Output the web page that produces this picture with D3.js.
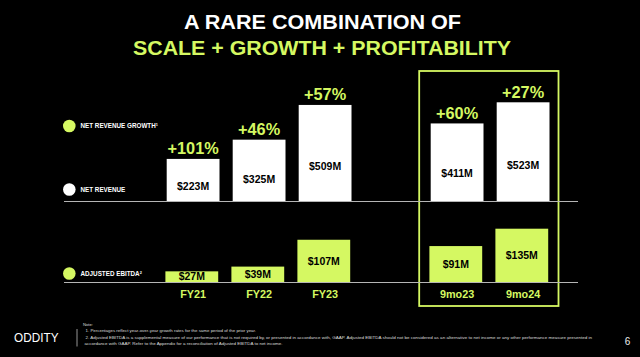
<!DOCTYPE html>
<html>
<head>
<meta charset="utf-8">
<script src="https://cdn.jsdelivr.net/npm/d3@7"></script>
<style>
  html, body { margin: 0; padding: 0; background: #000; }
  svg { display: block; }
  text { font-family: "Liberation Sans", Arial, sans-serif; }
</style>
</head>
<body>
<svg id="chart" width="640" height="357"></svg>
<script>
// ---- data ----
const categories = ["FY21", "FY22", "FY23", "9mo23", "9mo24"];
const netRevenue = [223, 325, 509, 411, 523];           // $M
const revenueGrowth = [101, 46, 57, 60, 27];            // %
const adjustedEbitda = [27, 39, 107, 91, 135];          // $M
const slots = ["FY21", "FY22", "FY23", "", "9mo23", "9mo24"]; // "" = spacer slot
const highlighted = ["9mo23", "9mo24"];
const titleLines = ["A RARE COMBINATION OF", "SCALE + GROWTH + PROFITABILITY"];
const legendLabels = ["NET REVENUE GROWTH", "NET REVENUE", "ADJUSTED EBITDA"];
const legendSup = ["1", "", "2"];
const noteLines = [
  "Note:",
  "1. Percentages  reflect  year-over-year  growth rates  for the same  period  of the prior  year.",
  "2. Adjusted  EBITDA is a supplemental  measure  of our performance  that is not required  by, or presented  in accordance  with, GAAP. Adjusted  EBITDA should  not  be considered  as an alternative  to net income  or any other performance  measure  presented  in",
  "accordance  with GAAP. Refer to the Appendix  for a reconciliation  of Adjusted  EBITDA to net income."
];

const LIME = "#d5f862";
const svg = d3.select("#chart");
svg.append("rect").attr("width", 640).attr("height", 357).attr("fill", "#000");

const data = categories.map((c, i) => ({
  cat: c, rev: netRevenue[i], growth: revenueGrowth[i], ebitda: adjustedEbitda[i]
}));

// ---- scales ----
const x = d3.scaleBand().domain(slots).range([160.1, 556.1])
  .paddingInner(0.2).paddingOuter(0.1);
const yRev = d3.scaleLinear().domain([0, 523]).range([201, 102.3]);
const yEb = d3.scaleLinear().domain([0, 135]).range([282, 228.7]);

// ---- title ----
svg.append("text").attr("x", 322.5).attr("y", 29).attr("text-anchor", "middle")
  .attr("font-size", 21).attr("font-weight", "bold").attr("fill", "#fff")
  .attr("textLength", 277).attr("lengthAdjust", "spacingAndGlyphs")
  .text(titleLines[0]);
svg.append("text").attr("x", 322).attr("y", 55).attr("text-anchor", "middle")
  .attr("font-size", 21).attr("font-weight", "bold").attr("fill", LIME)
  .attr("textLength", 378).attr("lengthAdjust", "spacingAndGlyphs")
  .text(titleLines[1]);

// ---- highlight box ----
const hx0 = x(highlighted[0]), hx1 = x(highlighted[1]) + x.bandwidth();
svg.append("rect")
  .attr("x", hx0 - 11.5).attr("y", 71)
  .attr("width", (hx1 + 9) - (hx0 - 11.5)).attr("height", 235)
  .attr("fill", "none").attr("stroke", LIME).attr("stroke-width", 1.8);

// ---- baselines ----
[yRev(0), yEb(0)].forEach(y0 => {
  svg.append("line").attr("x1", 64).attr("x2", 578).attr("y1", y0 + 0.5).attr("y2", y0 + 0.5)
    .attr("stroke", "#b5b5b5").attr("stroke-width", 1);
});

// ---- revenue bars ----
svg.selectAll(".rev").data(data).join("rect").attr("class", "rev")
  .attr("x", d => x(d.cat)).attr("width", x.bandwidth())
  .attr("y", d => yRev(d.rev)).attr("height", d => yRev(0) - yRev(d.rev))
  .attr("fill", "#fff");

svg.selectAll(".revlbl").data(data).join("text").attr("class", "revlbl")
  .attr("x", d => x(d.cat) + x.bandwidth() / 2)
  .attr("y", d => yRev(d.rev * 0.36))
  .attr("dy", "0.35em")
  .attr("text-anchor", "middle").attr("font-size", 10.5).attr("font-weight", "bold")
  .attr("fill", "#000")
  .text(d => "$" + d.rev + "M");

svg.selectAll(".growth").data(data).join("text").attr("class", "growth")
  .attr("x", d => x(d.cat) + x.bandwidth() / 2)
  .attr("y", d => yRev(d.rev) - 4.5)
  .attr("text-anchor", "middle").attr("font-size", 16.3).attr("font-weight", "bold")
  .attr("fill", LIME)
  .text(d => "+" + d.growth + "%");

// ---- EBITDA bars ----
svg.selectAll(".eb").data(data).join("rect").attr("class", "eb")
  .attr("x", d => x(d.cat) - 1.3).attr("width", x.bandwidth())
  .attr("y", d => yEb(d.ebitda)).attr("height", d => yEb(0) - yEb(d.ebitda))
  .attr("fill", LIME);

svg.selectAll(".eblbl").data(data).join("text").attr("class", "eblbl")
  .attr("x", d => x(d.cat) - 1.3 + x.bandwidth() / 2)
  .attr("y", d => (yEb(d.ebitda) + yEb(0)) / 2)
  .attr("dy", "0.36em")
  .attr("text-anchor", "middle").attr("font-size", 10.5).attr("font-weight", "bold")
  .attr("fill", "#000")
  .text(d => "$" + d.ebitda + "M");

// ---- category labels ----
svg.selectAll(".cat").data(data).join("text").attr("class", "cat")
  .attr("x", d => x(d.cat) + x.bandwidth() / 2)
  .attr("y", 297.5)
  .attr("text-anchor", "middle").attr("font-size", 10.8).attr("font-weight", "bold")
  .attr("fill", LIME)
  .text(d => d.cat);

// ---- legend ----
const legendY = [126, 189.5, 273.5];
const legendColors = [LIME, "#fff", LIME];
legendLabels.forEach((lab, i) => {
  svg.append("circle").attr("cx", 69.3).attr("cy", legendY[i]).attr("r", 6.3)
    .attr("fill", legendColors[i]);
  const t = svg.append("text").attr("x", 80.5).attr("y", legendY[i] + 2.3)
    .attr("font-size", 6.3).attr("font-weight", "bold").attr("fill", "#fff")
    .text(lab);
  if (legendSup[i]) {
    t.append("tspan").attr("dy", -2.2).attr("font-size", 3.8).text(legendSup[i]);
  }
});

// ---- footer ----
svg.append("text").attr("x", 14).attr("y", 342).attr("font-size", 12.8)
  .attr("fill", "#fff").attr("textLength", 44.5).attr("lengthAdjust", "spacingAndGlyphs")
  .attr("font-family", "DejaVu Sans Mono, monospace")
  .text("ODDITY");
svg.append("line").attr("x1", 77).attr("x2", 77).attr("y1", 329).attr("y2", 346.5)
  .attr("stroke", "#bbb").attr("stroke-width", 0.8);

const noteX = [83, 85.5, 85.5, 84.5];
const noteY = [326.3, 331.5, 339, 344.5];
const noteW = [10, 170.5, 506.5, 198];
noteLines.forEach((ln, i) => {
  svg.append("text").attr("x", noteX[i]).attr("y", noteY[i])
    .attr("font-size", 3.9).attr("fill", "#ddd")
    .attr("textLength", noteW[i]).attr("lengthAdjust", "spacingAndGlyphs")
    .text(ln);
});

svg.append("text").attr("x", 627.5).attr("y", 345).attr("text-anchor", "middle")
  .attr("font-size", 10).attr("fill", "#eee").text("6");
</script>
</body>
</html>
